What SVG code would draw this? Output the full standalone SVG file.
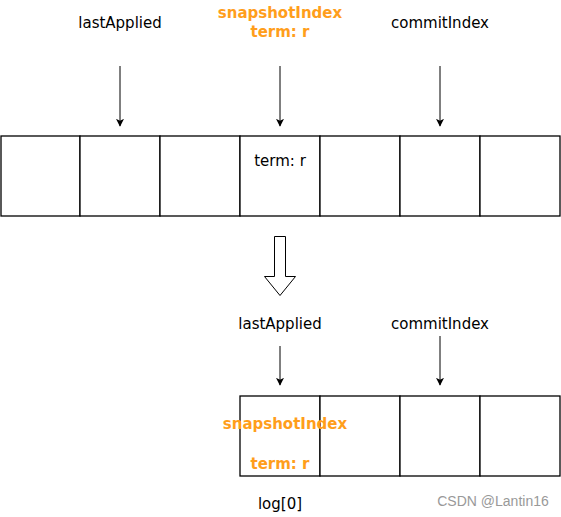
<svg xmlns="http://www.w3.org/2000/svg" width="561" height="517" viewBox="0 0 561 517">
<style>
.cell{fill:#fff;stroke:#000;stroke-width:1.3}
.t{font-family:"DejaVu Sans","Liberation Sans",sans-serif;font-size:15px;fill:#000;text-anchor:middle}
.o{fill:#FF9E1B;font-weight:bold}
.w{font-family:"Liberation Sans",sans-serif;font-size:14px;fill:#999;text-anchor:middle}
.c{stroke:#000;stroke-width:1;fill:none;marker-end:url(#ah)}
</style>
<defs>
<marker id="ah" viewBox="0 0 10 10" refX="9" refY="5" markerWidth="8" markerHeight="8" markerUnits="userSpaceOnUse" orient="auto">
<path d="M0,0 L10,5 L0,10 L2.5,5 z" fill="#000"/>
</marker>
</defs>
<g id="labels-top">
<text class="t" x="120" y="28">lastApplied</text>
<text class="t o" x="280" y="18">snapshotIndex</text>
<text class="t o" x="280" y="37">term: r</text>
<text class="t" x="440" y="28">commitIndex</text>
</g>
<g id="log-top">
<rect class="cell" x="1" y="136" width="79" height="80"/>
<rect class="cell" x="80" y="136" width="80" height="80"/>
<rect class="cell" x="160" y="136" width="80" height="80"/>
<rect class="cell" x="240" y="136" width="80" height="80"/>
<rect class="cell" x="320" y="136" width="80" height="80"/>
<rect class="cell" x="400" y="136" width="80" height="80"/>
<rect class="cell" x="480" y="136" width="80" height="80"/>
<text class="t" x="280" y="166">term: r</text>
</g>
<g id="transform-arrow">
<path d="M274.5,236.5 H285.5 V276.5 H295.5 L280,295.5 L264.5,276.5 H274.5 Z" fill="#fff" stroke="#000" stroke-width="1"/>
</g>
<g id="labels-bottom">
<text class="t" x="280" y="329">lastApplied</text>
<text class="t" x="440" y="329">commitIndex</text>
</g>
<g id="log-bottom">
<rect class="cell" x="240" y="396" width="80" height="80"/>
<rect class="cell" x="320" y="396" width="80" height="80"/>
<rect class="cell" x="400" y="396" width="80" height="80"/>
<rect class="cell" x="480" y="396" width="80" height="80"/>
<text class="t o" x="285" y="429">snapshotIndex</text>
<text class="t o" x="280" y="469">term: r</text>
</g>
<g id="log0"><text class="t" x="280" y="509">log[0]</text></g>
<g id="connectors">
<line class="c" x1="120" y1="66" x2="120" y2="126"/>
<line class="c" x1="280" y1="66" x2="280" y2="126"/>
<line class="c" x1="440" y1="66" x2="440" y2="126"/>
<line class="c" x1="280" y1="346" x2="280" y2="385"/>
<line class="c" x1="440" y1="336" x2="440" y2="385"/>
</g>
<text class="w" x="493" y="506">CSDN @Lantin16</text>
</svg>
